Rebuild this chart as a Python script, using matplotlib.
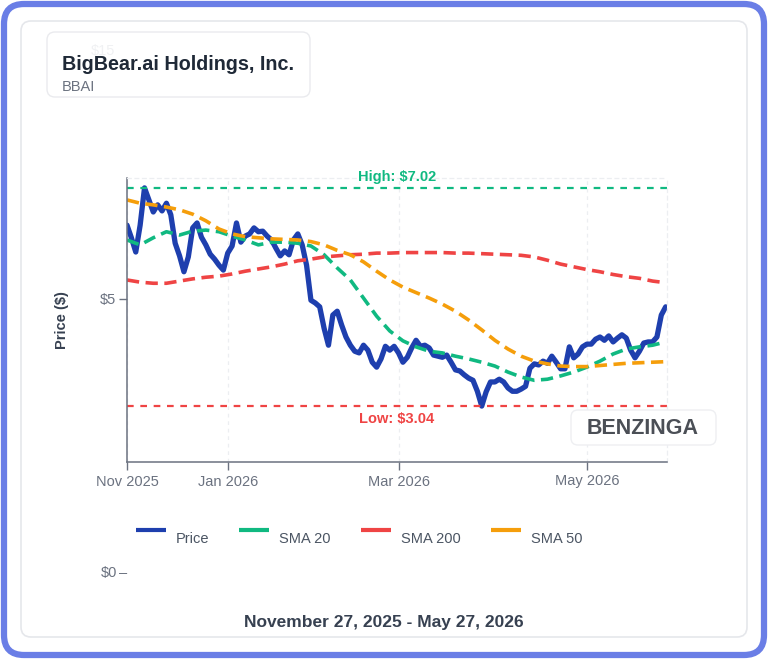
import numpy as np
import pandas as pd
import matplotlib
matplotlib.use("Agg")
import matplotlib.pyplot as plt
from matplotlib.patches import FancyBboxPatch

plt.rcParams['font.family'] = ['Liberation Sans', 'DejaVu Sans']

company = "BigBear.ai Holdings, Inc."
symbol = "BBAI"
period_text = "November 27, 2025 - May 27, 2026"

# trading days (weekends and market holidays dropped)
holidays = ['2025-12-25', '2026-01-01', '2026-01-19', '2026-02-16',
            '2026-04-03', '2026-05-25']
dates = pd.bdate_range('2025-11-27', '2026-05-27')
dates = dates[~dates.isin(pd.to_datetime(holidays))]

price = [
    6.34, 6.11, 5.85, 6.34, 7.02, 6.80, 6.58, 6.71, 6.60, 6.74,
    6.53, 6.01, 5.78, 5.49, 5.76, 6.29, 6.38, 6.12, 5.98, 5.81,
    5.72, 5.61, 5.52, 5.83, 5.96, 6.38, 6.03, 6.14, 6.18, 6.29,
    6.22, 6.23, 6.14, 6.07, 5.92, 5.78, 5.87, 5.80, 6.07, 6.18,
    5.98, 5.61, 4.97, 4.92, 4.85, 4.46, 4.15, 4.70, 4.77, 4.52,
    4.30, 4.15, 4.04, 4.01, 4.15, 4.06, 3.84, 3.75, 3.90, 4.13,
    4.06, 4.13, 4.01, 3.84, 3.93, 4.10, 4.24, 4.13, 4.15, 4.10,
    3.97, 3.95, 3.93, 3.97, 3.84, 3.70, 3.68, 3.61, 3.55, 3.51,
    3.31, 3.04, 3.30, 3.48, 3.48, 3.53, 3.48, 3.37, 3.31, 3.31,
    3.35, 3.40, 3.73, 3.81, 3.79, 3.86, 3.82, 3.95, 3.84, 3.72,
    3.72, 4.12, 3.92, 3.99, 4.12, 4.17, 4.17, 4.26, 4.30, 4.24,
    4.32, 4.21, 4.28, 4.34, 4.28, 4.06, 3.92, 4.04, 4.19, 4.21,
    4.21, 4.30, 4.70, 4.85,
]

sma_step = 3
sma20 = [6.07, 5.98, 6.11, 6.22, 6.16, 6.23, 6.25, 6.22, 6.14, 6.07,
         5.98, 6.03, 6.03, 6.01, 5.96, 5.80, 5.56, 5.34, 5.01, 4.68,
         4.41, 4.23, 4.12, 4.04, 4.01, 3.95, 3.90, 3.84, 3.77, 3.66,
         3.57, 3.51, 3.53, 3.59, 3.66, 3.75, 3.86, 3.99, 4.08, 4.12,
         4.15, 4.21]
sma50 = [6.80, 6.74, 6.71, 6.67, 6.62, 6.54, 6.42, 6.27, 6.18, 6.13,
         6.11, 6.09, 6.08, 6.07, 6.04, 5.98, 5.88, 5.80, 5.67, 5.50,
         5.34, 5.21, 5.11, 5.01, 4.90, 4.77, 4.61, 4.43, 4.24, 4.08,
         3.95, 3.86, 3.81, 3.77, 3.76, 3.76, 3.78, 3.80, 3.82, 3.83,
         3.84, 3.85]
sma200 = [5.34, 5.30, 5.28, 5.28, 5.32, 5.36, 5.39, 5.41, 5.45, 5.50,
          5.54, 5.58, 5.63, 5.69, 5.72, 5.76, 5.78, 5.80, 5.81, 5.83,
          5.83, 5.84, 5.84, 5.84, 5.84, 5.83, 5.83, 5.82, 5.81, 5.80,
          5.79, 5.76, 5.70, 5.63, 5.58, 5.53, 5.49, 5.44, 5.40, 5.37,
          5.32, 5.29]

high_price = 7.02
low_price = 3.04

tick_dates = ['2025-11-27', '2025-12-31', '2026-02-27', '2026-04-30']
tick_labels = ['Nov 2025', 'Jan 2026', 'Mar 2026', 'May 2026']

BLUE = '#1e3fae'
GREEN = '#10b981'
RED = '#ef4444'
ORANGE = '#f59e0b'
GRAY = '#6b7280'
DARK = '#1f2937'

W, H = 768, 659
fig = plt.figure(figsize=(W / 100, H / 100), dpi=100)
fig.patch.set_facecolor('white')

# background layer in pixel units
bg = fig.add_axes([0, 0, 1, 1], zorder=0)
bg.set_xlim(0, W)
bg.set_ylim(H, 0)
bg.axis('off')
bg.add_patch(FancyBboxPatch((4, 4), W - 8, H - 8, boxstyle="round,pad=0,rounding_size=20",
                            fc='white', ec='#6a7ee6', lw=4.5))
bg.add_patch(FancyBboxPatch((21, 21), W - 42, H - 43, boxstyle="round,pad=0,rounding_size=10",
                            fc='white', ec='#e5e7eb', lw=1.2))
bg.text(115, 51, '$15', ha='right', va='center', fontsize=10.5, color='#f0f1f3')
bg.add_patch(FancyBboxPatch((47, 32), 263, 65, boxstyle="round,pad=0,rounding_size=8",
                            fc='white', ec='#e8e9ed', lw=1.0, alpha=0.92))
bg.text(62, 65, company, fontsize=14.2, fontweight='bold', color=DARK, va='center')
bg.text(62, 87, symbol, fontsize=10.5, color=GRAY, va='center')

# main chart
ax = fig.add_axes([127 / W, 1 - 462 / H, 540 / W, 284 / H], zorder=1)
ax.patch.set_alpha(0)
x = np.arange(len(dates))
sx = x[::sma_step]

ax.plot(x, price, color=BLUE, lw=3.8, solid_joinstyle='round', solid_capstyle='round')
ax.plot(sx, sma20, color=GREEN, lw=2.6, ls=(0, (3.4, 1.8)))
ax.plot(sx, sma200, color=RED, lw=2.6, ls=(0, (3.4, 1.8)))
ax.plot(sx, sma50, color=ORANGE, lw=2.6, ls=(0, (3.4, 1.8)))

ax.axhline(high_price, color=GREEN, lw=1.6, ls=(0, (3, 3)))
ax.axhline(low_price, color=RED, lw=1.6, ls=(0, (3, 3)))
ax.annotate(f'High: ${high_price:.2f}', (0.5, high_price), xycoords=ax.get_yaxis_transform(),
            xytext=(0, 3), textcoords='offset points', ha='center', va='bottom',
            color=GREEN, fontsize=10.5, fontweight='bold')
ax.annotate(f'Low: ${low_price:.2f}', (0.5, low_price), xycoords=ax.get_yaxis_transform(),
            xytext=(0, -4.5), textcoords='offset points', ha='center', va='top',
            color=RED, fontsize=10.5, fontweight='bold')

ax.set_xlim(0, len(dates) - 0.7)
ax.set_ylim(2.02, 7.2)

tick_pos = [dates.get_loc(pd.Timestamp(d)) for d in tick_dates]
ax.set_xticks(tick_pos)
ax.set_xticklabels(tick_labels)
ax.set_yticks([5])
ax.set_yticklabels(['$5'])
ax.tick_params(colors=GRAY, labelsize=10.5, length=6, width=1, pad=2)
ax.tick_params(axis='x', pad=3)

for s in ['left', 'bottom']:
    ax.spines[s].set_color('#6b7280')
    ax.spines[s].set_linewidth(1.1)
for s in ['top', 'right']:
    ax.spines[s].set_color('#eceef1')
    ax.spines[s].set_linestyle((0, (3, 3)))
    ax.spines[s].set_linewidth(0.9)
ax.grid(axis='x', color='#eceef1', ls=(0, (3, 3)), lw=0.9)
ax.set_axisbelow(True)

ax.set_ylabel('Price ($)', fontsize=10.5, fontweight='bold', color='#374151', labelpad=22)

# $0 label sits on the same price scale, below the plot
ax.text(-0.018, 0, '$0', transform=ax.get_yaxis_transform(), ha='right', va='center',
        fontsize=10.5, color=GRAY, clip_on=False)
ax.text(0.0, 0, '\u2013', transform=ax.get_yaxis_transform(), ha='right', va='center',
        fontsize=10.5, color=GRAY, clip_on=False)

# overlay layer: logo box, legend, period text
ov = fig.add_axes([0, 0, 1, 1], zorder=2)
ov.set_xlim(0, W)
ov.set_ylim(H, 0)
ov.axis('off')
ov.add_patch(FancyBboxPatch((571, 410), 145, 35, boxstyle="round,pad=0,rounding_size=7",
                            fc='white', ec='#eeeff2', lw=1.0))
ov.text(643, 428, 'BENZINGA', ha='center', va='center', fontsize=15.5,
        fontweight='bold', color='#4b4f56')

legend_items = [('Price', BLUE), ('SMA 20', GREEN), ('SMA 200', RED), ('SMA 50', ORANGE)]
legend_x = [136, 239, 361, 491]
for (name, col), lx in zip(legend_items, legend_x):
    ov.plot([lx, lx + 30], [530, 530], color=col, lw=3, solid_capstyle='butt')
    ov.text(lx + 40, 539, name, va='center', fontsize=10.5, color='#4b5563')

ov.text(384, 623, period_text, ha='center', va='center', fontsize=12.5,
        fontweight='bold', color='#374151')

fig.savefig('out.png', dpi=100, facecolor='white')
